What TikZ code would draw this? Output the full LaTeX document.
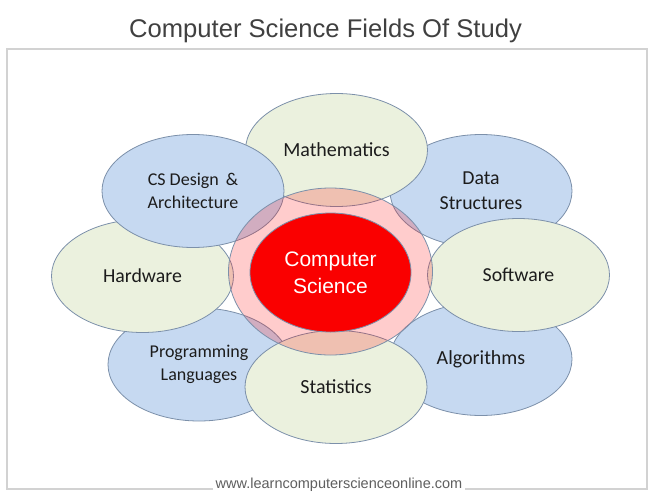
\documentclass[tikz,border=0pt]{standalone}
\usepackage{fontspec}
\setmainfont{Liberation Sans}
\newfontfamily\fieldfont{Carlito}
\usetikzlibrary{shapes.geometric}

\definecolor{fieldblue}{RGB}{198,217,241}
\definecolor{fieldgreen}{RGB}{235,241,222}
\definecolor{fieldedge}{RGB}{124,144,170}
\definecolor{corered}{RGB}{250,0,0}
\definecolor{framegray}{RGB}{210,210,210}
\definecolor{titlegray}{RGB}{64,64,64}
\definecolor{labelgray}{RGB}{28,28,28}
\definecolor{sitegray}{RGB}{95,95,95}

\begin{document}
\begin{tikzpicture}[x=1pt,y=-1pt,
    field/.style={ellipse, draw=fieldedge, line width=0.8pt, minimum width=2*\Rx, minimum height=2*\Ry, inner sep=0pt, align=center, text=labelgray}]

% Define the size of the fields
\def\Rx{91} % half width of a field
\def\Ry{56.5} % half height of a field

% Page and frame
\fill[white] (0,0) rectangle (653,498);
\useasboundingbox (0,0) rectangle (653,498);
\draw[framegray, line width=1.5pt] (7,49) rectangle (647,489);

\node[anchor=base, text=titlegray, font=\fontsize{25.6}{30}\selectfont] (title) at (325.5,37) {Computer Science Fields Of Study};

% Draw the fields (back to front)
\foreach \name/\x/\y/\col/\fs/\ls/\txt in {
    data/481/191/fieldblue/19.8/25/{Data\\Structures},
    algo/481/359/fieldblue/20/25/{Algorithms},
    prog/199/364.5/fieldblue/18/23/{Programming\\Languages},
    math/336.5/150/fieldgreen/20/25/{Mathematics},
    soft/518.5/275/fieldgreen/19.8/25/{Software},
    stat/336/387/fieldgreen/20/25/{Statistics},
    hard/142.5/276/fieldgreen/19.8/25/{Hardware},
    design/193/191/fieldblue/18/23/{CS Design \,\&\\Architecture}%
}{
    \node[field, fill=\col, font=\fieldfont\fontsize{\fs}{\ls}\selectfont] (\name) at (\x,\y) {\txt};
}

% Draw the centre
\node[ellipse, draw=fieldedge, line width=0.8pt, fill=red, fill opacity=0.2, minimum width=204, minimum height=167] (ring) at (330.5,271.5) {};
\node[ellipse, draw=fieldedge, line width=0.8pt, fill=corered, minimum width=161, minimum height=119, text=white, align=center, font=\fontsize{21}{27}\selectfont] (core) at (330.5,272.5) {Computer\\Science};

% Web address over the frame
\node[anchor=base, fill=white, inner xsep=3pt, text=sitegray, font=\fontsize{14.5}{17}\selectfont] (site) at (339,488) {www.learncomputerscienceonline.com};

\end{tikzpicture}
\end{document}
